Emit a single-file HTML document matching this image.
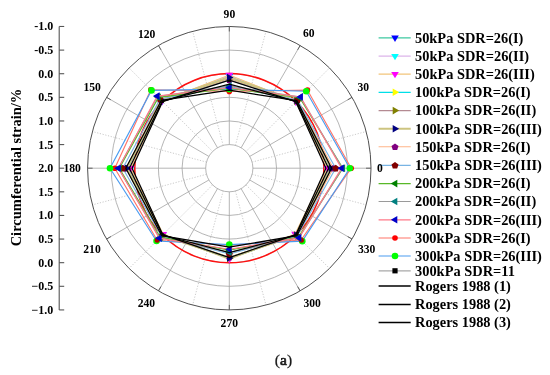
<!DOCTYPE html>
<html><head><meta charset="utf-8"><title>Circumferential strain</title>
<style>html,body{margin:0;padding:0;background:#fff;}body{width:550px;height:375px;position:relative;overflow:hidden;}</style></head>
<body>
<svg width="550" height="375" viewBox="0 0 550 375" style="position:absolute;left:0;top:0">
<rect width="550" height="375" fill="#fff"/>
<g fill="none" stroke="#a2a2a2" stroke-width="0.8">
<circle cx="229.3" cy="168.2" r="23.62"/>
<circle cx="229.3" cy="168.2" r="47.24"/>
<circle cx="229.3" cy="168.2" r="70.86"/>
<circle cx="229.3" cy="168.2" r="94.48"/>
<circle cx="229.3" cy="168.2" r="118.10"/>
</g>
<g stroke="#a2a2a2" stroke-width="0.8">
<line x1="252.92" y1="168.20" x2="371.02" y2="168.20"/>
<line x1="249.76" y1="156.39" x2="352.03" y2="97.34"/>
<line x1="241.11" y1="147.74" x2="300.16" y2="45.47"/>
<line x1="229.30" y1="144.58" x2="229.30" y2="26.48"/>
<line x1="217.49" y1="147.74" x2="158.44" y2="45.47"/>
<line x1="208.84" y1="156.39" x2="106.57" y2="97.34"/>
<line x1="205.68" y1="168.20" x2="87.58" y2="168.20"/>
<line x1="208.84" y1="180.01" x2="106.57" y2="239.06"/>
<line x1="217.49" y1="188.66" x2="158.44" y2="290.93"/>
<line x1="229.30" y1="191.82" x2="229.30" y2="309.92"/>
<line x1="241.11" y1="188.66" x2="300.16" y2="290.93"/>
<line x1="249.76" y1="180.01" x2="352.03" y2="239.06"/>
</g>
<g stroke="#c4c4c4" stroke-width="0.9" stroke-dasharray="1.2 1.6">
<line x1="252.12" y1="162.09" x2="366.19" y2="131.52"/>
<line x1="246.00" y1="151.50" x2="329.51" y2="67.99"/>
<line x1="235.41" y1="145.38" x2="265.98" y2="31.31"/>
<line x1="223.19" y1="145.38" x2="192.62" y2="31.31"/>
<line x1="212.60" y1="151.50" x2="129.09" y2="67.99"/>
<line x1="206.48" y1="162.09" x2="92.41" y2="131.52"/>
<line x1="206.48" y1="174.31" x2="92.41" y2="204.88"/>
<line x1="212.60" y1="184.90" x2="129.09" y2="268.41"/>
<line x1="223.19" y1="191.02" x2="192.62" y2="305.09"/>
<line x1="235.41" y1="191.02" x2="265.98" y2="305.09"/>
<line x1="246.00" y1="184.90" x2="329.51" y2="268.41"/>
<line x1="252.12" y1="174.31" x2="366.19" y2="204.88"/>
</g>
<g stroke="#555" stroke-width="0.9">
<line x1="366.02" y1="168.20" x2="371.02" y2="168.20"/>
<line x1="347.70" y1="99.84" x2="352.03" y2="97.34"/>
<line x1="297.66" y1="49.80" x2="300.16" y2="45.47"/>
<line x1="229.30" y1="31.48" x2="229.30" y2="26.48"/>
<line x1="160.94" y1="49.80" x2="158.44" y2="45.47"/>
<line x1="110.90" y1="99.84" x2="106.57" y2="97.34"/>
<line x1="92.58" y1="168.20" x2="87.58" y2="168.20"/>
<line x1="110.90" y1="236.56" x2="106.57" y2="239.06"/>
<line x1="160.94" y1="286.60" x2="158.44" y2="290.93"/>
<line x1="229.30" y1="304.92" x2="229.30" y2="309.92"/>
<line x1="297.66" y1="286.60" x2="300.16" y2="290.93"/>
<line x1="347.70" y1="236.56" x2="352.03" y2="239.06"/>
</g>
<circle cx="229.3" cy="168.2" r="141.72" fill="none" stroke="#505050" stroke-width="1.0"/>
<g stroke="#555" stroke-width="1.1" fill="none">
<line x1="59.2" y1="26.48" x2="59.2" y2="309.92"/>
<line x1="59.2" y1="26.48" x2="64.2" y2="26.48"/>
<line x1="59.2" y1="50.10" x2="64.2" y2="50.10"/>
<line x1="59.2" y1="73.72" x2="64.2" y2="73.72"/>
<line x1="59.2" y1="97.34" x2="64.2" y2="97.34"/>
<line x1="59.2" y1="120.96" x2="64.2" y2="120.96"/>
<line x1="59.2" y1="144.58" x2="64.2" y2="144.58"/>
<line x1="59.2" y1="168.20" x2="64.2" y2="168.20"/>
<line x1="59.2" y1="191.82" x2="64.2" y2="191.82"/>
<line x1="59.2" y1="215.44" x2="64.2" y2="215.44"/>
<line x1="59.2" y1="239.06" x2="64.2" y2="239.06"/>
<line x1="59.2" y1="262.68" x2="64.2" y2="262.68"/>
<line x1="59.2" y1="286.30" x2="64.2" y2="286.30"/>
<line x1="59.2" y1="309.92" x2="64.2" y2="309.92"/>
</g>
<g font-family="'Liberation Serif', serif" font-weight="bold" font-size="12" fill="#000" text-anchor="end">
<text x="53.3" y="30.48">-1.0</text>
<text x="53.3" y="54.10">-0.5</text>
<text x="53.3" y="77.72">0.0</text>
<text x="53.3" y="101.34">0.5</text>
<text x="53.3" y="124.96">1.0</text>
<text x="53.3" y="148.58">1.5</text>
<text x="53.3" y="172.20">2.0</text>
<text x="53.3" y="195.82">1.5</text>
<text x="53.3" y="219.44">1.0</text>
<text x="53.3" y="243.06">0.5</text>
<text x="53.3" y="266.68">0.0</text>
<text x="53.3" y="290.30">−0.5</text>
<text x="53.3" y="313.92">−1.0</text>
</g>
<text transform="translate(21.2,167.5) rotate(-90)" text-anchor="middle" font-family="'Liberation Serif', serif" font-weight="bold" font-size="14.5" fill="#000">Circumferential strain/%</text>
<circle cx="229.3" cy="168.2" r="94.6" fill="none" stroke="#ff1010" stroke-width="1.5"/>
<path d="M327.80,168.20 L296.12,101.38 L229.30,76.20 L162.12,101.02 L130.30,168.20 L162.83,234.67 L229.30,258.20 L295.77,234.67Z" fill="none" stroke="#3cc8a0" stroke-width="1.15" stroke-linejoin="miter"/>
<path d="M324.00,166.00H331.60L327.80,172.40Z" fill="#0000ff"/>
<path d="M292.32,99.18H299.92L296.12,105.58Z" fill="#0000ff"/>
<path d="M225.50,74.00H233.10L229.30,80.40Z" fill="#0000ff"/>
<path d="M158.32,98.82H165.92L162.12,105.22Z" fill="#0000ff"/>
<path d="M126.50,166.00H134.10L130.30,172.40Z" fill="#0000ff"/>
<path d="M159.03,232.47H166.63L162.83,238.87Z" fill="#0000ff"/>
<path d="M225.50,256.00H233.10L229.30,262.40Z" fill="#0000ff"/>
<path d="M291.97,232.47H299.57L295.77,238.87Z" fill="#0000ff"/>
<path d="M327.30,168.20 L296.12,101.38 L229.30,75.70 L162.12,101.02 L130.80,168.20 L162.83,234.67 L229.30,258.70 L295.77,234.67Z" fill="none" stroke="#dcb4ea" stroke-width="1.15" stroke-linejoin="miter"/>
<path d="M323.50,166.00H331.10L327.30,172.40Z" fill="#00ffff"/>
<path d="M292.32,99.18H299.92L296.12,105.58Z" fill="#00ffff"/>
<path d="M225.50,73.50H233.10L229.30,79.90Z" fill="#00ffff"/>
<path d="M158.32,98.82H165.92L162.12,105.22Z" fill="#00ffff"/>
<path d="M127.00,166.00H134.60L130.80,172.40Z" fill="#00ffff"/>
<path d="M159.03,232.47H166.63L162.83,238.87Z" fill="#00ffff"/>
<path d="M225.50,256.50H233.10L229.30,262.90Z" fill="#00ffff"/>
<path d="M291.97,232.47H299.57L295.77,238.87Z" fill="#00ffff"/>
<path d="M327.50,168.20 L295.77,101.73 L229.30,75.00 L162.12,101.02 L130.50,168.20 L163.19,234.31 L229.30,259.30 L295.06,233.96Z" fill="none" stroke="#f2c47a" stroke-width="1.15" stroke-linejoin="miter"/>
<path d="M323.70,166.00H331.30L327.50,172.40Z" fill="#ff00ff"/>
<path d="M291.97,99.53H299.57L295.77,105.93Z" fill="#ff00ff"/>
<path d="M225.50,72.80H233.10L229.30,79.20Z" fill="#ff00ff"/>
<path d="M158.32,98.82H165.92L162.12,105.22Z" fill="#ff00ff"/>
<path d="M126.70,166.00H134.30L130.50,172.40Z" fill="#ff00ff"/>
<path d="M159.39,232.11H166.99L163.19,238.51Z" fill="#ff00ff"/>
<path d="M225.50,257.10H233.10L229.30,263.50Z" fill="#ff00ff"/>
<path d="M291.26,231.76H298.86L295.06,238.16Z" fill="#ff00ff"/>
<path d="M330.60,168.20 L296.48,101.02 L229.30,77.70 L161.77,100.67 L127.30,168.20 L162.48,235.02 L229.30,258.40 L296.12,235.02Z" fill="none" stroke="#00dfe8" stroke-width="1.15" stroke-linejoin="miter"/>
<path d="M328.30,164.40V172.00L334.80,168.20Z" fill="#ffff00"/>
<path d="M294.18,97.22V104.82L300.68,101.02Z" fill="#ffff00"/>
<path d="M227.00,73.90V81.50L233.50,77.70Z" fill="#ffff00"/>
<path d="M159.47,96.87V104.47L165.97,100.67Z" fill="#ffff00"/>
<path d="M125.00,164.40V172.00L131.50,168.20Z" fill="#ffff00"/>
<path d="M160.18,231.22V238.82L166.68,235.02Z" fill="#ffff00"/>
<path d="M227.00,254.60V262.20L233.50,258.40Z" fill="#ffff00"/>
<path d="M293.82,231.22V238.82L300.32,235.02Z" fill="#ffff00"/>
<path d="M330.90,168.20 L296.48,101.02 L229.30,78.20 L161.42,100.32 L127.00,168.20 L162.48,235.02 L229.30,258.10 L296.12,235.02Z" fill="none" stroke="#b48a92" stroke-width="1.15" stroke-linejoin="miter"/>
<path d="M328.60,164.40V172.00L335.10,168.20Z" fill="#808000"/>
<path d="M294.18,97.22V104.82L300.68,101.02Z" fill="#808000"/>
<path d="M227.00,74.40V82.00L233.50,78.20Z" fill="#808000"/>
<path d="M159.12,96.52V104.12L165.62,100.32Z" fill="#808000"/>
<path d="M124.70,164.40V172.00L131.20,168.20Z" fill="#808000"/>
<path d="M160.18,231.22V238.82L166.68,235.02Z" fill="#808000"/>
<path d="M227.00,254.30V261.90L233.50,258.10Z" fill="#808000"/>
<path d="M293.82,231.22V238.82L300.32,235.02Z" fill="#808000"/>
<path d="M333.30,168.20 L297.18,100.32 L229.30,79.60 L160.36,99.26 L126.30,168.20 L161.77,235.73 L229.30,257.20 L296.83,235.73Z" fill="none" stroke="#ffb488" stroke-width="1.1" stroke-linejoin="miter"/>
<polygon points="333.30,164.80 329.78,167.36 331.13,171.49 335.47,171.49 336.82,167.36" fill="#800080"/>
<polygon points="297.18,96.92 293.66,99.47 295.01,103.61 299.36,103.61 300.70,99.47" fill="#800080"/>
<polygon points="229.30,76.20 225.78,78.76 227.13,82.89 231.47,82.89 232.82,78.76" fill="#800080"/>
<polygon points="160.36,95.86 156.84,98.41 158.18,102.55 162.53,102.55 163.88,98.41" fill="#800080"/>
<polygon points="126.30,164.80 122.78,167.36 124.13,171.49 128.47,171.49 129.82,167.36" fill="#800080"/>
<polygon points="161.77,232.33 158.25,234.89 159.60,239.02 163.95,239.02 165.29,234.89" fill="#800080"/>
<polygon points="229.30,253.80 225.78,256.36 227.13,260.49 231.47,260.49 232.82,256.36" fill="#800080"/>
<polygon points="296.83,232.33 293.31,234.89 294.65,239.02 299.00,239.02 300.35,234.89" fill="#800080"/>
<path d="M330.30,168.20 L296.48,101.02 L229.30,79.90 L161.98,100.88 L127.30,168.20 L162.12,235.38 L229.30,257.20 L296.48,235.38Z" fill="none" stroke="#a8a8a8" stroke-width="1.15" stroke-linejoin="miter"/>
<rect x="328.30" y="166.20" width="4.0" height="4.0" fill="#000000"/>
<rect x="294.48" y="99.02" width="4.0" height="4.0" fill="#000000"/>
<rect x="227.30" y="77.90" width="4.0" height="4.0" fill="#000000"/>
<rect x="159.98" y="98.88" width="4.0" height="4.0" fill="#000000"/>
<rect x="125.30" y="166.20" width="4.0" height="4.0" fill="#000000"/>
<rect x="160.12" y="233.38" width="4.0" height="4.0" fill="#000000"/>
<rect x="227.30" y="255.20" width="4.0" height="4.0" fill="#000000"/>
<rect x="294.48" y="233.38" width="4.0" height="4.0" fill="#000000"/>
<path d="M331.10,168.20 L296.83,100.67 L229.30,77.50 L161.42,100.32 L126.80,168.20 L162.12,235.38 L229.30,257.90 L296.48,235.38Z" fill="none" stroke="#cdc480" stroke-width="1.9" stroke-linejoin="miter"/>
<path d="M328.80,164.40V172.00L335.30,168.20Z" fill="#000080"/>
<path d="M294.53,96.87V104.47L301.03,100.67Z" fill="#000080"/>
<path d="M227.00,73.70V81.30L233.50,77.50Z" fill="#000080"/>
<path d="M159.12,96.52V104.12L165.62,100.32Z" fill="#000080"/>
<path d="M124.50,164.40V172.00L131.00,168.20Z" fill="#000080"/>
<path d="M159.82,231.58V239.18L166.32,235.38Z" fill="#000080"/>
<path d="M227.00,254.10V261.70L233.50,257.90Z" fill="#000080"/>
<path d="M294.18,231.58V239.18L300.68,235.38Z" fill="#000080"/>
<path d="M335.70,168.20 L297.54,99.96 L229.30,86.70 L160.00,98.90 L122.80,168.20 L161.42,236.08 L229.30,254.00 L297.18,236.08Z" fill="none" stroke="#78b4e4" stroke-width="1.15" stroke-linejoin="miter"/>
<polygon points="335.70,164.80 332.18,167.36 333.53,171.49 337.87,171.49 339.22,167.36" fill="#800000"/>
<polygon points="297.54,96.56 294.02,99.12 295.36,103.26 299.71,103.26 301.05,99.12" fill="#800000"/>
<polygon points="229.30,83.30 225.78,85.86 227.13,89.99 231.47,89.99 232.82,85.86" fill="#800000"/>
<polygon points="160.00,95.50 156.48,98.06 157.83,102.20 162.18,102.20 163.52,98.06" fill="#800000"/>
<polygon points="122.80,164.80 119.28,167.36 120.63,171.49 124.97,171.49 126.32,167.36" fill="#800000"/>
<polygon points="161.42,232.68 157.90,235.24 159.24,239.38 163.59,239.38 164.94,235.24" fill="#800000"/>
<polygon points="229.30,250.60 225.78,253.16 227.13,257.29 231.47,257.29 232.82,253.16" fill="#800000"/>
<polygon points="297.18,232.68 293.66,235.24 295.01,239.38 299.36,239.38 300.70,235.24" fill="#800000"/>
<path d="M351.20,168.20 L307.44,90.06 L229.30,91.40 L150.81,89.71 L114.80,168.20 L157.18,240.32 L229.30,245.20 L301.07,239.97Z" fill="none" stroke="#ff7468" stroke-width="1.15" stroke-linejoin="miter"/>
<circle cx="351.20" cy="168.20" r="2.8" fill="#ff0000"/>
<circle cx="307.44" cy="90.06" r="2.8" fill="#ff0000"/>
<circle cx="229.30" cy="91.40" r="2.8" fill="#ff0000"/>
<circle cx="150.81" cy="89.71" r="2.8" fill="#ff0000"/>
<circle cx="114.80" cy="168.20" r="2.8" fill="#ff0000"/>
<circle cx="157.18" cy="240.32" r="2.8" fill="#ff0000"/>
<circle cx="229.30" cy="245.20" r="2.8" fill="#ff0000"/>
<circle cx="301.07" cy="239.97" r="2.8" fill="#ff0000"/>
<path d="M349.80,168.20 L306.23,91.27 L229.30,89.20 L151.52,90.42 L110.00,168.20 L156.54,240.96 L229.30,244.60 L302.27,241.17Z" fill="none" stroke="#4a9cf0" stroke-width="1.15" stroke-linejoin="miter"/>
<circle cx="349.80" cy="168.20" r="3.3" fill="#00ff00"/>
<circle cx="306.23" cy="91.27" r="3.3" fill="#00ff00"/>
<circle cx="229.30" cy="89.20" r="3.3" fill="#00ff00"/>
<circle cx="151.52" cy="90.42" r="3.3" fill="#00ff00"/>
<circle cx="110.00" cy="168.20" r="3.3" fill="#00ff00"/>
<circle cx="156.54" cy="240.96" r="3.3" fill="#00ff00"/>
<circle cx="229.30" cy="244.60" r="3.3" fill="#00ff00"/>
<circle cx="302.27" cy="241.17" r="3.3" fill="#00ff00"/>
<circle cx="157.18" cy="240.32" r="2.5" fill="#b00000"/>
<circle cx="301.42" cy="240.32" r="2.5" fill="#b00000"/>
<path d="M342.80,168.20 L299.73,97.77 L229.30,88.20 L158.45,97.35 L119.30,168.20 L160.29,237.21 L229.30,250.20 L298.31,237.21Z" fill="none" stroke="#58b828" stroke-width="1.2" stroke-linejoin="miter"/>
<path d="M345.10,164.40V172.00L338.60,168.20Z" fill="#008000"/>
<path d="M302.03,93.97V101.57L295.53,97.77Z" fill="#008000"/>
<path d="M231.60,84.40V92.00L225.10,88.20Z" fill="#008000"/>
<path d="M160.75,93.55V101.15L154.25,97.35Z" fill="#008000"/>
<path d="M121.60,164.40V172.00L115.10,168.20Z" fill="#008000"/>
<path d="M162.59,233.41V241.01L156.09,237.21Z" fill="#008000"/>
<path d="M231.60,246.40V254.00L225.10,250.20Z" fill="#008000"/>
<path d="M300.61,233.41V241.01L294.11,237.21Z" fill="#008000"/>
<path d="M342.50,168.20 L300.36,97.14 L229.30,85.90 L157.53,96.43 L118.30,168.20 L159.65,237.85 L229.30,252.20 L298.95,237.85Z" fill="none" stroke="#9a9a9a" stroke-width="1.15" stroke-linejoin="miter"/>
<path d="M344.80,164.40V172.00L338.30,168.20Z" fill="#008080"/>
<path d="M302.66,93.34V100.94L296.16,97.14Z" fill="#008080"/>
<path d="M231.60,82.10V89.70L225.10,85.90Z" fill="#008080"/>
<path d="M159.83,92.63V100.23L153.33,96.43Z" fill="#008080"/>
<path d="M120.60,164.40V172.00L114.10,168.20Z" fill="#008080"/>
<path d="M161.95,234.05V241.65L155.45,237.85Z" fill="#008080"/>
<path d="M231.60,248.40V256.00L225.10,252.20Z" fill="#008080"/>
<path d="M301.25,234.05V241.65L294.75,237.85Z" fill="#008080"/>
<path d="M341.50,168.20 L300.58,96.92 L229.30,87.80 L157.18,96.08 L118.50,168.20 L159.30,238.20 L229.30,249.20 L298.95,237.85Z" fill="none" stroke="#ff7888" stroke-width="1.15" stroke-linejoin="miter"/>
<path d="M343.80,164.40V172.00L337.30,168.20Z" fill="#0000c8"/>
<path d="M302.88,93.12V100.72L296.38,96.92Z" fill="#0000c8"/>
<path d="M231.60,84.00V91.60L225.10,87.80Z" fill="#0000c8"/>
<path d="M159.48,92.28V99.88L152.98,96.08Z" fill="#0000c8"/>
<path d="M120.80,164.40V172.00L114.30,168.20Z" fill="#0000c8"/>
<path d="M161.60,234.40V242.00L155.10,238.20Z" fill="#0000c8"/>
<path d="M231.60,245.40V253.00L225.10,249.20Z" fill="#0000c8"/>
<path d="M301.25,234.05V241.65L294.75,237.85Z" fill="#0000c8"/>
<path d="M325.90,168.20 L295.77,101.73 L229.30,80.20 L162.69,101.59 L132.10,168.20 L162.83,234.67 L229.30,257.70 L295.77,234.67Z" fill="none" stroke="#000000" stroke-width="1.25" stroke-linejoin="miter"/>
<path d="M328.60,168.20 L296.12,101.38 L229.30,84.20 L162.27,101.17 L129.30,168.20 L162.48,235.02 L229.30,252.70 L296.12,235.02Z" fill="none" stroke="#000000" stroke-width="1.25" stroke-linejoin="miter"/>
<path d="M331.60,168.20 L296.83,100.67 L229.30,90.20 L161.42,100.32 L125.80,168.20 L161.77,235.73 L229.30,247.20 L296.83,235.73Z" fill="none" stroke="#000000" stroke-width="1.25" stroke-linejoin="miter"/>
<g font-family="'Liberation Serif', serif" font-weight="bold" font-size="14" fill="#000">
<line x1="378.6" y1="37.8" x2="410.7" y2="37.8" stroke="#3cc8a0" stroke-width="1.15"/>
<path d="M391.20,35.60H398.80L395.00,42.00Z" fill="#0000ff"/>
<text x="415" y="42.60" textLength="108.4" lengthAdjust="spacingAndGlyphs">50kPa SDR=26(I)</text>
<line x1="378.6" y1="56.1" x2="410.7" y2="56.1" stroke="#dcb4ea" stroke-width="1.15"/>
<path d="M391.20,53.90H398.80L395.00,60.30Z" fill="#00ffff"/>
<text x="415" y="60.90" textLength="114.1" lengthAdjust="spacingAndGlyphs">50kPa SDR=26(II)</text>
<line x1="378.6" y1="74.1" x2="410.7" y2="74.1" stroke="#f2c47a" stroke-width="1.15"/>
<path d="M391.20,71.90H398.80L395.00,78.30Z" fill="#ff00ff"/>
<text x="415" y="78.90" textLength="119.7" lengthAdjust="spacingAndGlyphs">50kPa SDR=26(III)</text>
<line x1="378.6" y1="92.3" x2="410.7" y2="92.3" stroke="#00dfe8" stroke-width="1.15"/>
<path d="M392.70,88.50V96.10L399.20,92.30Z" fill="#ffff00"/>
<text x="415" y="97.10" textLength="115.6" lengthAdjust="spacingAndGlyphs">100kPa SDR=26(I)</text>
<line x1="378.6" y1="110.6" x2="410.7" y2="110.6" stroke="#b48a92" stroke-width="1.15"/>
<path d="M392.70,106.80V114.40L399.20,110.60Z" fill="#808000"/>
<text x="415" y="115.40" textLength="121.2" lengthAdjust="spacingAndGlyphs">100kPa SDR=26(II)</text>
<line x1="378.6" y1="128.8" x2="410.7" y2="128.8" stroke="#cdc480" stroke-width="1.9"/>
<path d="M392.70,125.00V132.60L399.20,128.80Z" fill="#000080"/>
<text x="415" y="133.60" textLength="126.9" lengthAdjust="spacingAndGlyphs">100kPa SDR=26(III)</text>
<line x1="378.6" y1="146.8" x2="410.7" y2="146.8" stroke="#ffb488" stroke-width="1.1"/>
<polygon points="395.00,143.40 391.48,145.96 392.83,150.09 397.17,150.09 398.52,145.96" fill="#800080"/>
<text x="415" y="151.60" textLength="115.6" lengthAdjust="spacingAndGlyphs">150kPa SDR=26(I)</text>
<line x1="378.6" y1="165.3" x2="410.7" y2="165.3" stroke="#78b4e4" stroke-width="1.15"/>
<polygon points="395.00,161.90 391.48,164.46 392.83,168.59 397.17,168.59 398.52,164.46" fill="#800000"/>
<text x="415" y="170.10" textLength="126.9" lengthAdjust="spacingAndGlyphs">150kPa SDR=26(III)</text>
<line x1="378.6" y1="183.6" x2="410.7" y2="183.6" stroke="#58b828" stroke-width="1.2"/>
<path d="M397.30,179.80V187.40L390.80,183.60Z" fill="#008000"/>
<text x="415" y="188.40" textLength="115.6" lengthAdjust="spacingAndGlyphs">200kPa SDR=26(I)</text>
<line x1="378.6" y1="201.5" x2="410.7" y2="201.5" stroke="#9a9a9a" stroke-width="1.15"/>
<path d="M397.30,197.70V205.30L390.80,201.50Z" fill="#008080"/>
<text x="415" y="206.30" textLength="121.2" lengthAdjust="spacingAndGlyphs">200kPa SDR=26(II)</text>
<line x1="378.6" y1="219.8" x2="410.7" y2="219.8" stroke="#ff7888" stroke-width="1.15"/>
<path d="M397.30,216.00V223.60L390.80,219.80Z" fill="#0000c8"/>
<text x="415" y="224.60" textLength="126.9" lengthAdjust="spacingAndGlyphs">200kPa SDR=26(III)</text>
<line x1="378.6" y1="238" x2="410.7" y2="238" stroke="#ff7468" stroke-width="1.15"/>
<circle cx="395.00" cy="238.00" r="2.8" fill="#ff0000"/>
<text x="415" y="242.80" textLength="115.6" lengthAdjust="spacingAndGlyphs">300kPa SDR=26(I)</text>
<line x1="378.6" y1="256" x2="410.7" y2="256" stroke="#4a9cf0" stroke-width="1.15"/>
<circle cx="395.00" cy="256.00" r="3.3" fill="#00ff00"/>
<text x="415" y="260.80" textLength="126.9" lengthAdjust="spacingAndGlyphs">300kPa SDR=26(III)</text>
<line x1="378.6" y1="270.8" x2="410.7" y2="270.8" stroke="#a8a8a8" stroke-width="1.15"/>
<rect x="392.40" y="268.20" width="5.2" height="5.2" fill="#000000"/>
<text x="415" y="275.60" textLength="99.9" lengthAdjust="spacingAndGlyphs">300kPa SDR=11</text>
<line x1="378.6" y1="286" x2="410.7" y2="286" stroke="#000000" stroke-width="1.5"/>
<text x="415" y="290.80" textLength="95.9" lengthAdjust="spacingAndGlyphs">Rogers 1988 (1)</text>
<line x1="378.6" y1="304.5" x2="410.7" y2="304.5" stroke="#000000" stroke-width="1.5"/>
<text x="415" y="309.30" textLength="95.9" lengthAdjust="spacingAndGlyphs">Rogers 1988 (2)</text>
<line x1="378.6" y1="322.5" x2="410.7" y2="322.5" stroke="#000000" stroke-width="1.5"/>
<text x="415" y="327.30" textLength="95.9" lengthAdjust="spacingAndGlyphs">Rogers 1988 (3)</text>
</g>
<g font-family="'Liberation Serif', serif" font-weight="bold" font-size="11.6" fill="#000" text-anchor="middle">
<text x="379.9" y="171.80">0</text>
<text x="363.2" y="91.30">30</text>
<text x="308.8" y="37.00">60</text>
<text x="229.4" y="17.50">90</text>
<text x="146.7" y="37.60">120</text>
<text x="92.2" y="91.40">150</text>
<text x="72.2" y="171.60">180</text>
<text x="92.0" y="252.50">210</text>
<text x="146.4" y="307.10">240</text>
<text x="229.3" y="326.60">270</text>
<text x="312.1" y="307.10">300</text>
<text x="366.7" y="252.60">330</text>
</g>
<text x="283.5" y="364.6" text-anchor="middle" font-family="'Liberation Serif', 'DejaVu Serif', serif" font-size="15.6" fill="#1a1a1a" stroke="#1a1a1a" stroke-width="0.25">(<tspan stroke-width="0.7">a</tspan>)</text>
</svg>
</body></html>
